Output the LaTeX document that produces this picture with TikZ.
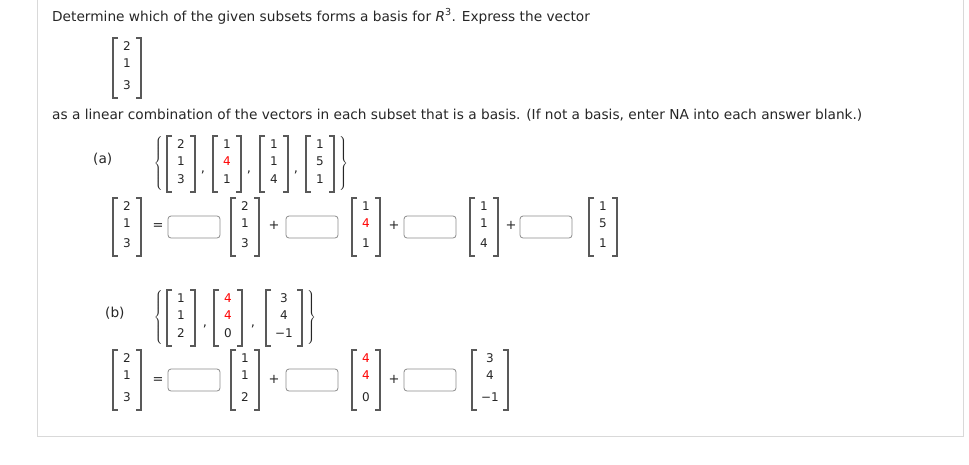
\documentclass[tikz,border=0pt]{standalone}
\usepackage{fontspec}
\setmainfont{DejaVu Sans}
\begin{document}
\begin{tikzpicture}[x=1pt,y=-1pt,
  txt/.style={anchor=base west,inner sep=0pt,font=\fontsize{13.7}{16}\selectfont,text=black!85},
  ent/.style={anchor=base,inner sep=0pt,font=\fontsize{12}{14}\selectfont,text=black!85},
  brk/.style={draw=black!65,line width=1.6pt},
  ansbox/.style={draw=black!45,line width=0.8pt,rounded corners=3pt,fill=white},
  sym/.style={anchor=base,inner sep=0pt,font=\fontsize{13}{15}\selectfont,text=black!85},
  brace/.style={inner sep=0pt,text=black!85}]
\useasboundingbox (0,0) rectangle (969,464);
\draw[black!15,line width=1pt] (37,-2) -- (37,436) -- (963,436) -- (963,-2);
\newcommand{\mvec}[8]{% x top bot halfw e1 e2 e3 color-of-e2
  \draw[brk] ({#1-#4+5},#2) -- ({#1-#4},#2) -- ({#1-#4},#3) -- ({#1-#4+5},#3);
  \draw[brk] ({#1+#4-5},#2) -- ({#1+#4},#2) -- ({#1+#4},#3) -- ({#1+#4-5},#3);
  \node[ent] at (#1,{#2+12}) {#5};
  \node[ent,text=#8] at (#1,{#2+29}) {#6};
  \node[ent] at (#1,{#3-9}) {#7};}
\node[txt] (t1) at (52,21) {Determine which of the given subsets forms a basis for \textit{R}\textsuperscript{3}. Express the vector};
\mvec{127}{38}{98}{14}{2}{1}{3}{black!85}
\node[txt] (t2) at (52,119) {as a linear combination of the vectors in each subset that is a basis. (If not a basis, enter NA into each answer blank.)};
% (a)
\node[txt] (la) at (93,163) {(a)};
\node[brace] (lba) at (159,164) {\(\left\{\vrule height 25pt depth 25pt width 0pt\right.\)};
\mvec{181}{136}{192}{14}{2}{1}{3}{black!85}
\mvec{227}{136}{192}{14}{1}{4}{1}{red}
\mvec{274}{136}{192}{14}{1}{1}{4}{black!85}
\mvec{320}{136}{192}{14}{1}{5}{1}{black!85}
\node[brace] (rba) at (343,164) {\(\left.\vrule height 25pt depth 25pt width 0pt\right\}\)};
\foreach \c in {203,249,296} \node[sym] at (\c,172) {,};
\mvec{127}{198}{256}{14}{2}{1}{3}{black!85}
\node[sym] (eqa) at (158,229) {=};
\node[ansbox,minimum width=52pt,minimum height=22pt] (a1) at (194,227) {};
\mvec{245}{198}{256}{14}{2}{1}{3}{black!85}
\node[sym] at (274,229) {+};
\node[ansbox,minimum width=52pt,minimum height=22pt] (a2) at (312,227) {};
\mvec{366}{198}{256}{14}{1}{4}{1}{red}
\node[sym] at (394,229) {+};
\node[ansbox,minimum width=52pt,minimum height=22pt] (a3) at (430,227) {};
\mvec{484}{198}{256}{14}{1}{1}{4}{black!85}
\node[sym] at (511,229) {+};
\node[ansbox,minimum width=52pt,minimum height=22pt] (a4) at (546,227) {};
\mvec{603}{198}{256}{14}{1}{5}{1}{black!85}
% (b)
\node[txt] (lb) at (105,317) {(b)};
\node[brace] (lbb) at (159,318) {\(\left\{\vrule height 25pt depth 25pt width 0pt\right.\)};
\mvec{181}{290}{346}{14}{1}{1}{2}{black!85}
\mvec{228}{290}{346}{14}{\textcolor{red}{4}}{4}{0}{red}
\mvec{284}{290}{346}{18}{3}{4}{−1}{black!85}
\node[brace] (rbb) at (311,318) {\(\left.\vrule height 25pt depth 25pt width 0pt\right\}\)};
\foreach \c in {205,253} \node[sym] at (\c,326) {,};
\mvec{127}{350}{410}{14}{2}{1}{3}{black!85}
\node[sym] (eqb) at (158,383) {=};
\node[ansbox,minimum width=52pt,minimum height=22pt] (b1) at (194,380) {};
\mvec{245}{350}{410}{14}{1}{1}{2}{black!85}
\node[sym] at (274,383) {+};
\node[ansbox,minimum width=52pt,minimum height=22pt] (b2) at (312,380) {};
\mvec{366}{350}{410}{14}{\textcolor{red}{4}}{4}{0}{red}
\node[sym] at (394,383) {+};
\node[ansbox,minimum width=52pt,minimum height=22pt] (b3) at (430,380) {};
\mvec{490}{350}{410}{18}{3}{4}{−1}{black!85}
\end{tikzpicture}
\end{document}
